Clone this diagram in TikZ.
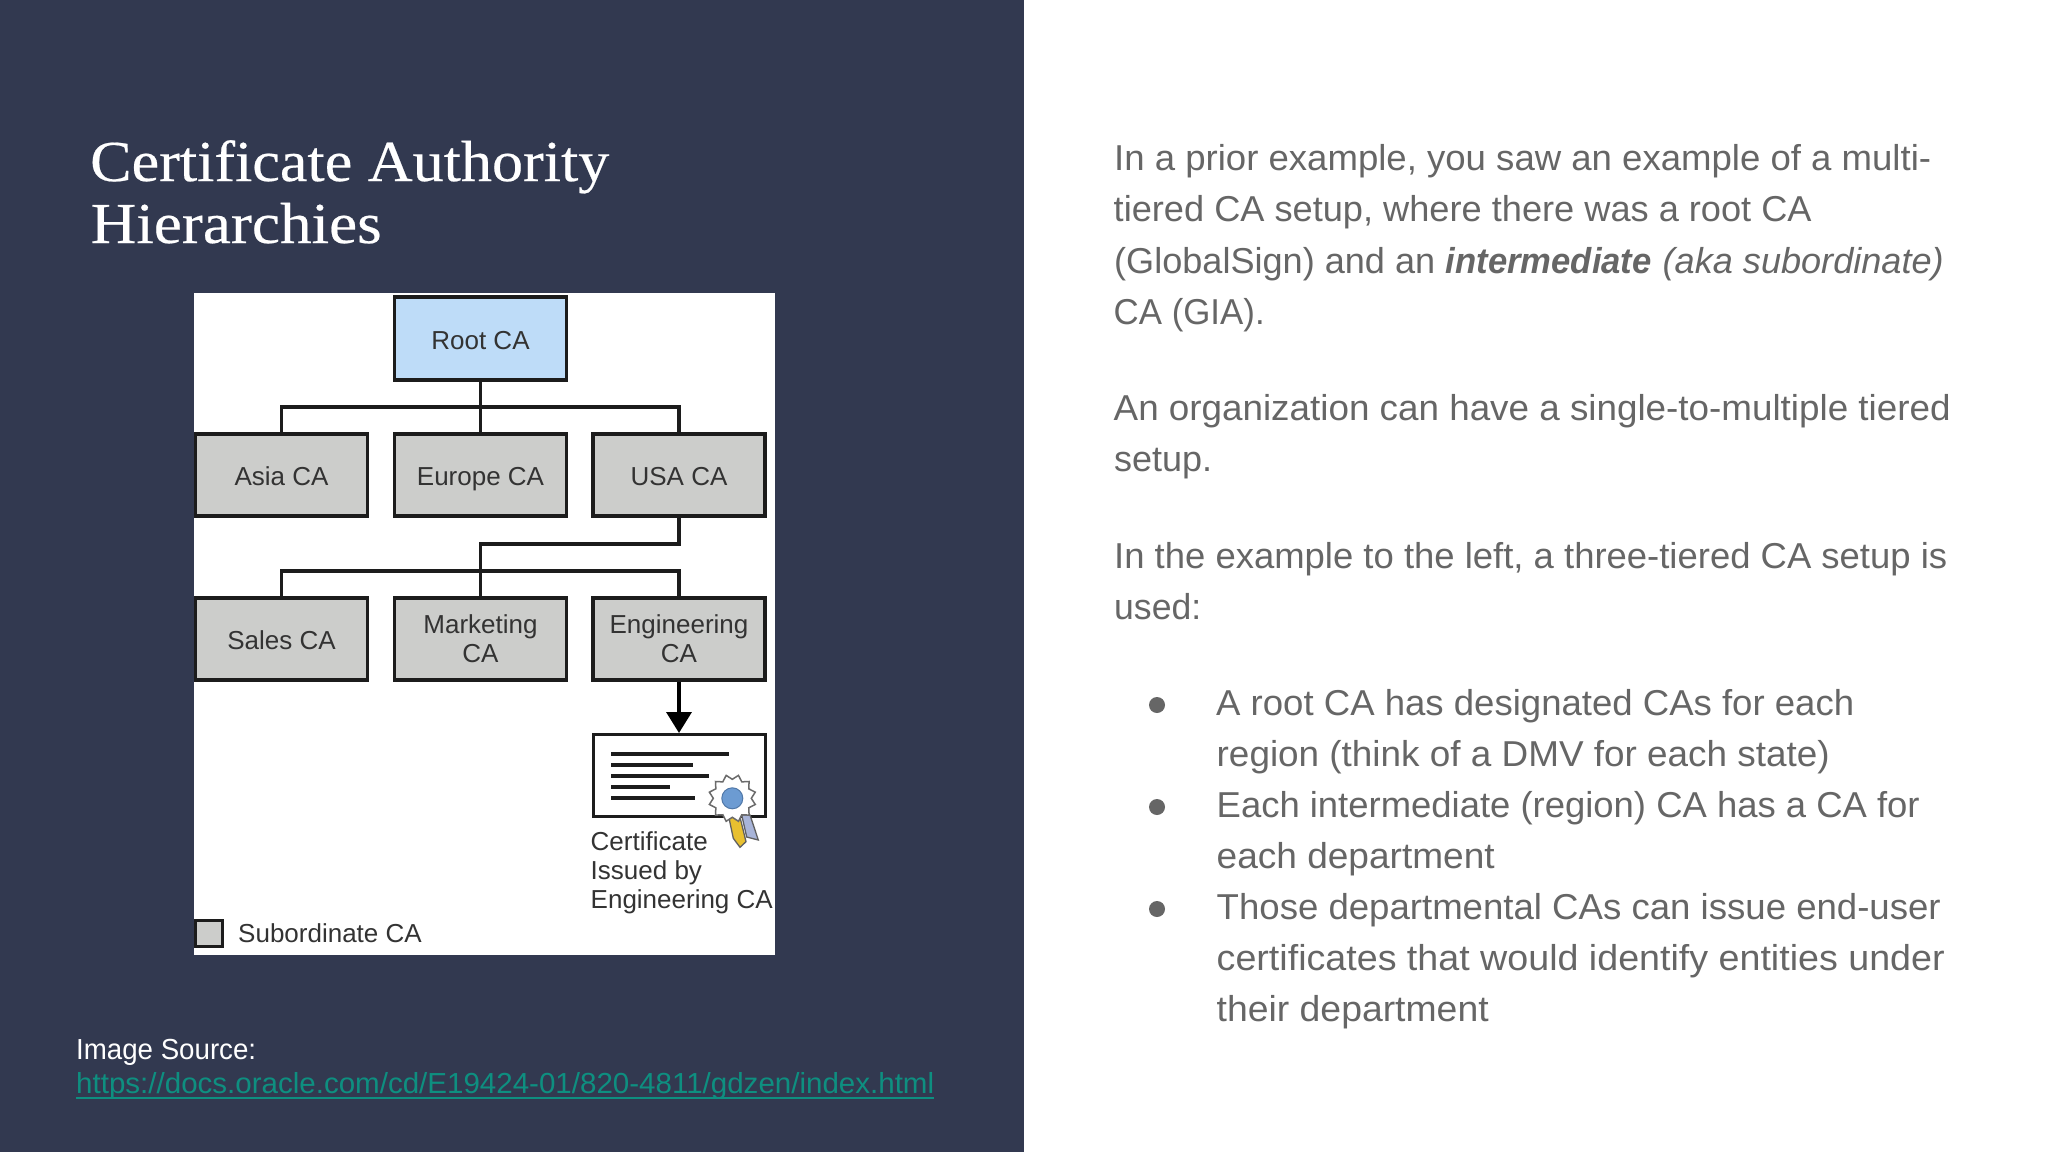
\documentclass[tikz,border=0pt]{standalone}
\usepackage{fontspec}
\usepackage{graphicx}
\setmainfont{Liberation Sans}
\newfontfamily\titlefont[FakeBold=0.35]{Liberation Serif}
\usetikzlibrary{arrows.meta,shapes.geometric}
\definecolor{panel}{HTML}{323950}
\definecolor{bodygray}{HTML}{666666}
\definecolor{linkteal}{HTML}{0E8F80}
\definecolor{rootblue}{HTML}{BEDCF8}
\definecolor{boxgray}{HTML}{CCCDCB}
\definecolor{ink}{HTML}{1C1C1C}
\definecolor{labelink}{HTML}{333333}
\definecolor{sealblue}{HTML}{6C9BD2}
\definecolor{sealrim}{HTML}{5078A8}
\definecolor{ribbonblue}{HTML}{A8B4D8}
\definecolor{ribbonyellow}{HTML}{E8C030}
\newcommand{\fitw}[2]{\resizebox{#1pt}{\height}{#2}}
\newcommand{\lowered}[1]{\raisebox{-1.2pt}[18.6pt][0pt]{#1}}
\tikzset{
  cabox/.style={draw=ink,line width=3.5pt,fill=boxgray,minimum width=172pt,minimum height=82pt,inner sep=0pt,
    text=labelink,align=center,font=\fontsize{26}{29}\selectfont},
  rootbox/.style={cabox,fill=rootblue,minimum height=83pt},
  wire/.style={draw=ink,line width=3.5pt},
  bodyline/.style={anchor=base west,inner sep=0pt,text=bodygray,font=\fontsize{36}{43}\selectfont},
  titleline/.style={anchor=base west,inner sep=0pt,text=white,font=\titlefont\fontsize{58}{62}\selectfont},
  srcline/.style={anchor=base west,inner sep=0pt,text=white,font=\fontsize{29}{34}\selectfont},
  diagtext/.style={anchor=base west,inner sep=0pt,text=labelink,font=\fontsize{26}{29}\selectfont},
  bulletdot/.style={circle,fill=bodygray,minimum size=16pt,inner sep=0pt},
  certline/.style={line width=4.5pt,ink}
}
\begin{document}
\begin{tikzpicture}[x=1pt,y=-1pt]
\useasboundingbox (0,0) rectangle (2048,1152);
\fill[white] (0,0) rectangle (2048,1152);
\fill[panel] (0,0) rectangle (1024,1152);
\fill[white] (194,293) rectangle (775,955);

% Title
\node[titleline] (t1) at (90,181) {\fitw{519}{Certificate Authority}};
\node[titleline] (t2) at (90.5,243) {\fitw{291}{Hierarchies}};

% Diagram boxes
\node[rootbox] (root) at (480.5,338.5) {\lowered{Root CA}};
\node[cabox] (asia) at (281.5,475) {\lowered{Asia CA}};
\node[cabox] (europe) at (480.5,475) {\lowered{Europe CA}};
\node[cabox] (usa) at (679,475) {\lowered{USA CA}};
\node[cabox] (sales) at (281.5,639) {\lowered{Sales CA}};
\node[cabox] (marketing) at (480.5,639) {Marketing\\CA};
\node[cabox] (eng) at (679,639) {Engineering\\CA};
\coordinate (bus1) at (480.5,407);
\coordinate (jog) at (480.5,544);
\coordinate (bus2) at (480.5,571);
\draw[wire] (root.south) -- (europe.north);
\draw[wire] (asia.north) |- (bus1) -| (usa.north);
\draw[wire] (usa.south) |- (jog) -- (marketing.north);
\draw[wire] (sales.north) |- (bus2) -| (eng.north);

% Certificate
\node[draw=ink,line width=3pt,fill=white,minimum width=172pt,minimum height=82pt,inner sep=0pt] (cert) at (679,775.5) {};
\draw[wire,black,-{Triangle[length=21pt,width=25pt]}] (eng.south) -- (cert.north);
\draw[certline] (611,754) -- (729,754);
\draw[certline] (611,765) -- (693,765);
\draw[certline] (611,776) -- (709,776);
\draw[certline] (611,787) -- (670,787);
\draw[certline] (611,798) -- (695,798);
% Ribbon
\draw[fill=ribbonblue,draw=ink!70,line width=1.3pt] (741.7,815) -- (750,815) -- (758.3,840) -- (746.7,837) -- cycle;
\draw[fill=ribbonyellow,draw=ink!70,line width=1.3pt] (729,818) -- (739.3,814.3) -- (746,841.7) -- (740,847.3) -- (733.3,838.3) -- cycle;
\node[star,star points=12,star point ratio=.8,minimum size=38pt,inner sep=0pt,draw=ink!65,line width=1.5pt,fill=white] (seal) at (732.3,798.3) {};
\node[circle,fill=sealblue,draw=sealrim,line width=1pt,minimum size=21pt,inner sep=0pt] (sealcore) at (732.3,798.3) {};
\node[diagtext] (c1) at (590.5,850) {Certificate};
\node[diagtext] (c2) at (590.5,879) {Issued by};
\node[diagtext] (c3) at (590.5,908) {Engineering CA};

% Legend
\node[draw=ink,line width=3pt,fill=boxgray,minimum width=27pt,minimum height=26pt,inner sep=0pt] (legend) at (209,933.5) {};
\node[diagtext] (legendtext) at (238,942) {Subordinate CA};

% Source
\node[srcline] (src) at (76,1059.5) {\fitw{180}{Image Source:}};
\node[srcline,text=linkteal] (url) at (76,1093.5) {\fitw{858}{https://docs.oracle.com/cd/E19424-01/820-4811/gdzen/index.html}};
\draw[linkteal,line width=2pt] (url.base west)++(0,4) -- ++(858,0);

% Right column
\node[bodyline] (p1) at (1114,170.5) {\fitw{817}{In a prior example, you saw an example of a multi-}};
\node[bodyline] (p2) at (1113.5,221.5) {\fitw{698}{tiered CA setup, where there was a root CA}};
\node[bodyline] (p3a) at (1114,273) {\fitw{321}{(GlobalSign) and an}};
\node[bodyline] (p3b) at (1445.5,273) {\fitw{206}{\bfseries\itshape intermediate}};
\node[bodyline] (p3c) at (1662.5,273) {\fitw{281}{\itshape (aka subordinate)}};
\node[bodyline] (p4) at (1113.5,324) {\fitw{151}{CA (GIA).}};
\node[bodyline] (q1) at (1113.5,420) {\fitw{837}{An organization can have a single-to-multiple tiered}};
\node[bodyline] (q2) at (1114,471.5) {\fitw{98}{setup.}};
\node[bodyline] (r1) at (1114,568) {\fitw{833}{In the example to the left, a three-tiered CA setup is}};
\node[bodyline] (r2) at (1114,619) {\fitw{87}{used:}};
\node[bulletdot] (b1) at (1157,705) {};
\node[bulletdot] (b2) at (1157,807) {};
\node[bulletdot] (b3) at (1157,909) {};
\node[bodyline] (s1) at (1216,715) {\fitw{638}{A root CA has designated CAs for each}};
\node[bodyline] (s2) at (1216.5,766.5) {\fitw{613}{region (think of a DMV for each state)}};
\node[bodyline] (s3) at (1216.5,817) {\fitw{703}{Each intermediate (region) CA has a CA for}};
\node[bodyline] (s4) at (1216.5,868) {\fitw{278}{each department}};
\node[bodyline] (s5) at (1216.5,919) {\fitw{724}{Those departmental CAs can issue end-user}};
\node[bodyline] (s6) at (1216.5,970) {\fitw{728}{certificates that would identify entities under}};
\node[bodyline] (s7) at (1216.5,1021) {\fitw{272}{their department}};
\end{tikzpicture}
\end{document}
